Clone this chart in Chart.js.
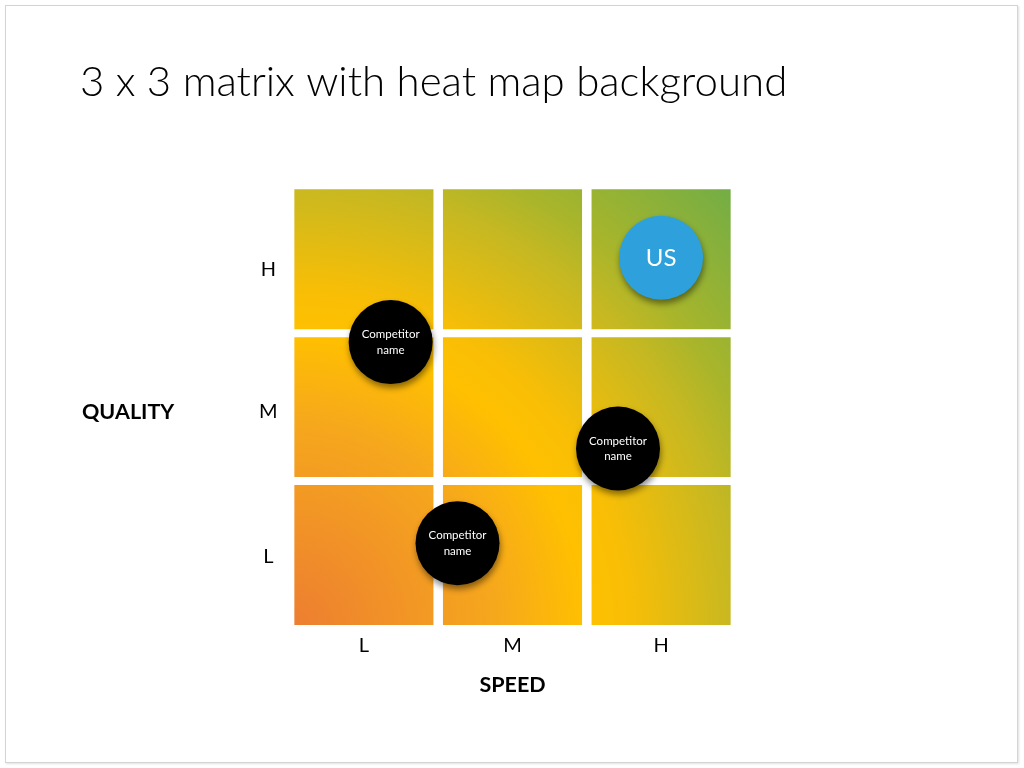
<!DOCTYPE html>
<html>
<head>
<meta charset="utf-8">
<script src="https://cdn.jsdelivr.net/npm/chart.js@4"></script>
<style>
  body { margin: 0; background: #fff; }
  #wrap { position: relative; width: 1024px; height: 768px; }
  #frame {
    position: absolute; left: 5px; top: 5px; width: 1011px; height: 756px;
    border: 1px solid #d4d4d4; box-shadow: 1px 1px 2px rgba(0,0,0,0.12);
    pointer-events: none;
  }
  canvas { position: absolute; left: 0; top: 0; }
</style>
</head>
<body>
<div id="wrap">
  <canvas id="matrix" width="1024" height="768"></canvas>
  <div id="frame"></div>
</div>
<script>
const chartTitle = '3 x 3 matrix with heat map background';
const speedLabels = ['L', 'M', 'H'];
const qualityLabels = ['L', 'M', 'H'];
const speedTicks = [0.5, 1.5, 2.5];
const qualityTicks = [0.49, 1.47, 2.43];

const playerNames = ['Competitor name', 'US', 'Competitor name', 'Competitor name'];
const playerSpeed = [0.68, 2.5, 2.21, 1.13];
const playerQuality = [1.94, 2.51, 1.22, 0.58];

// styles
const playerColors = ['#000000', '#2ea1dc', '#000000', '#000000'];
const playerFontSizes = [11.5, 24, 11.5, 11.5];
// radial heat map from the low/low corner
const heatStops = [
  [0, '#ed7d31'],
  [0.24, '#f39c22'],
  [0.33, '#f6a81c'],
  [0.47, '#ffc000'],
  [0.54, '#f8be06'],
  [0.71, '#c6b822'],
  [0.79, '#a8b52b'],
  [1, '#70ad47'],
];
const cellInset = 0.027;
const fontFamily = 'Lato, "Open Sans", sans-serif';


const cells = [];
qualityLabels.forEach((q, row) => {
  speedLabels.forEach((s, col) => {
    cells.push({ x: col + 0.5, y: [row + cellInset, row + 1 - cellInset] });
  });
});

const players = playerNames.map((name, i) => ({
  x: playerSpeed[i],
  y: playerQuality[i],
}));


function heatGradient(context) {
  const { ctx, chartArea } = context.chart;
  if (!chartArea) return null;
  const r = Math.hypot(chartArea.width, chartArea.height);
  const g = ctx.createRadialGradient(chartArea.left, chartArea.bottom, 0, chartArea.left, chartArea.bottom, r);
  heatStops.forEach(([stop, color]) => g.addColorStop(stop, color));
  return g;
}


const bubbleShadow = {
  id: 'bubbleShadow',
  beforeDatasetDraw(chart, args) {
    if (args.meta.type !== 'bubble') return;
    const ctx = chart.ctx;
    ctx.save();
    ctx.shadowColor = 'rgba(0,0,0,0.45)';
    ctx.shadowBlur = 6;
    ctx.shadowOffsetX = 1;
    ctx.shadowOffsetY = 4;
  },
  afterDatasetDraw(chart, args) {
    if (args.meta.type !== 'bubble') return;
    chart.ctx.restore();
  },
};

const bubbleLabels = {
  id: 'bubbleLabels',
  afterDatasetsDraw(chart) {
    const ctx = chart.ctx;
    const meta = chart.getDatasetMeta(1);
    ctx.save();
    ctx.fillStyle = '#ffffff';
    ctx.textAlign = 'center';
    ctx.textBaseline = 'middle';
    meta.data.forEach((pt, i) => {
      const size = playerFontSizes[i];
      ctx.font = size + 'px ' + fontFamily;
      const lines = playerNames[i].split(' ');
      const lh = size * 1.35;
      lines.forEach((line, k) => {
        ctx.fillText(line, pt.x, pt.y + (k - (lines.length - 1) / 2) * lh);
      });
    });
    ctx.restore();
  },
};

// slide title and the horizontal QUALITY label
const slideText = {
  id: 'slideText',
  afterDraw(chart) {
    const ctx = chart.ctx;
    const y = chart.scales.y;
    ctx.save();
    ctx.fillStyle = '#000';
    ctx.textAlign = 'left';
    ctx.textBaseline = 'middle';
    ctx.font = '300 42px ' + fontFamily;
    ctx.fillText(chartTitle, y.left, 82);
    ctx.font = 'bold 21.5px ' + fontFamily;
    ctx.fillText('QUALITY', y.left + 2, y.getPixelForValue(qualityTicks[1]));
    ctx.restore();
  },
};


new Chart(document.getElementById('matrix'), {
  type: 'bar',
  data: {
    datasets: [
      {
        type: 'bar',
        data: cells,
        backgroundColor: heatGradient,
        borderWidth: 0,
        barPercentage: 0.936,
        categoryPercentage: 1,
        order: 2,
      },
      {
        type: 'bubble',
        data: players,
        radius: 42,
        backgroundColor: playerColors,
        borderWidth: 0,
        order: 1,
      },
    ],
  },
  options: {
    responsive: false,
    animation: false,
    events: [],
    layout: {
      padding: { left: 80, right: 288.6, top: 185.3, bottom: 69 },
    },
    plugins: {
      legend: { display: false },
      tooltip: { enabled: false },
      title: { display: false },
    },
    scales: {
      x: {
        type: 'linear',
        min: 0,
        max: 3,
        offset: false,
        grid: { display: false, drawTicks: false },
        border: { display: false },
        afterBuildTicks: scale => {
          scale.ticks = speedTicks.map(v => ({ value: v }));
        },
        afterFit: scale => { scale.height = 70; },
        ticks: {
          padding: 5,
          color: '#000',
          font: { family: fontFamily, size: 20 },
          callback: (v, i) => speedLabels[i],
        },
        title: {
          display: true,
          text: 'SPEED',
          color: '#000',
          font: { family: fontFamily, size: 21.5, weight: 'bold' },
          padding: { top: 0, bottom: 1 },
        },
      },
      y: {
        type: 'linear',
        min: 0,
        max: 3,
        grid: { display: false, drawTicks: false },
        border: { display: false },
        afterBuildTicks: scale => {
          scale.ticks = qualityTicks.map(v => ({ value: v }));
        },
        afterFit: scale => { scale.width = 209.6; },
        ticks: {
          padding: 12,
          crossAlign: 'center',
          color: '#000',
          font: { family: fontFamily, size: 20 },
          callback: (v, i) => qualityLabels[i],
        },
      },
    },
  },
  plugins: [bubbleShadow, bubbleLabels, slideText],
});
</script>
</body>
</html>
